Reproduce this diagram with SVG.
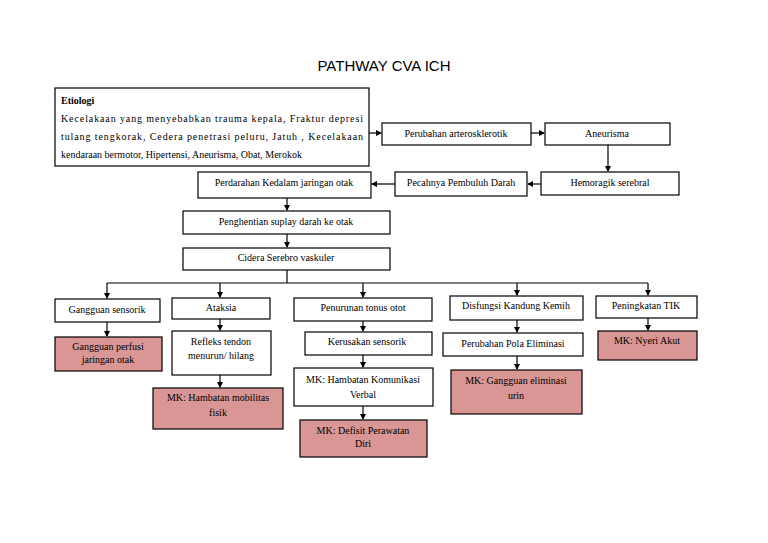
<svg xmlns="http://www.w3.org/2000/svg" width="768" height="543" viewBox="0 0 768 543">
<defs>
<style>
.b{fill:#fff;stroke:#000;stroke-width:1.2}
.p{fill:#d99694;stroke:#000;stroke-width:1.2}
text{font-family:"Liberation Serif",serif;font-size:10px;fill:#000;text-anchor:middle}
.l{stroke:#000;stroke-width:1.2;fill:none}
</style>
<marker id="a" markerWidth="6" markerHeight="6" refX="5" refY="3" orient="auto" markerUnits="userSpaceOnUse"><path d="M0,0 L6,3 L0,6z"/></marker>
</defs>
<rect width="768" height="543" fill="#fff"/>
<text x="384" y="71" style="font-family:'Liberation Sans',sans-serif;font-size:15px">PATHWAY CVA ICH</text>
<g id="etiologi"><rect class="b" x="55" y="88" width="314" height="78"/>
<text x="61" y="104" style="text-anchor:start;font-weight:bold">Etiologi</text>
<text x="61" y="122" style="text-anchor:start" textLength="302" lengthAdjust="spacing">Kecelakaan yang menyebabkan trauma kepala, Fraktur depresi</text>
<text x="61" y="140" style="text-anchor:start" textLength="302" lengthAdjust="spacing">tulang tengkorak, Cedera penetrasi peluru, Jatuh , Kecelakaan</text>
<text x="61" y="158" style="text-anchor:start">kendaraan bermotor, Hipertensi, Aneurisma, Obat, Merokok</text></g>
<g id="perubahan"><rect class="b" x="382" y="123" width="149" height="22"/><text x="456" y="137">Perubahan arterosklerotik</text></g>
<g id="aneurisma"><rect class="b" x="545" y="123" width="125" height="22"/><text x="607" y="137">Aneurisma</text></g>
<g id="hemoragik"><rect class="b" x="541" y="172" width="138" height="23"/><text x="610" y="186">Hemoragik serebral</text></g>
<g id="pecahnya"><rect class="b" x="395" y="172" width="132" height="24"/><text x="461" y="186">Pecahnya Pembuluh Darah</text></g>
<g id="perdarahan"><rect class="b" x="198" y="172" width="173" height="26"/><text x="284" y="186">Perdarahan Kedalam jaringan otak</text></g>
<g id="penghentian"><rect class="b" x="183" y="211" width="207" height="23"/><text x="286" y="225">Penghentian suplay darah ke otak</text></g>
<g id="cidera"><rect class="b" x="183" y="248" width="207" height="22"/><text x="286" y="261">Cidera Serebro vaskuler</text></g>
<g id="sensorik"><rect class="b" x="55" y="299" width="105" height="23"/><text x="107" y="313">Gangguan sensorik</text></g>
<g id="ataksia"><rect class="b" x="172" y="298" width="98" height="21"/><text x="221" y="311">Ataksia</text></g>
<g id="penurunan"><rect class="b" x="294" y="298" width="138" height="23"/><text x="363" y="311">Penurunan tonus otot</text></g>
<g id="disfungsi"><rect class="b" x="450" y="296" width="133" height="24"/><text x="516" y="309">Disfungsi Kandung Kemih</text></g>
<g id="tik"><rect class="b" x="596" y="296" width="101" height="22"/><text x="646" y="309">Peningkatan TIK</text></g>
<g id="perfusi"><rect class="p" x="55" y="337" width="107" height="34"/><text x="108" y="350">Gangguan perfusi</text><text x="108" y="363">jaringan otak</text></g>
<g id="refleks"><rect class="b" x="172" y="331" width="99" height="44"/><text x="221" y="345">Refleks tendon</text><text x="221" y="359">menurun/ hilang</text></g>
<g id="mobilitas"><rect class="p" x="153" y="388" width="130" height="41"/><text x="218" y="401">MK: Hambatan mobilitas</text><text x="218" y="416">fisik</text></g>
<g id="kerusakan"><rect class="b" x="305" y="332" width="127" height="23"/><text x="367" y="345">Kerusakan sensorik</text></g>
<g id="komunikasi"><rect class="b" x="294" y="368" width="139" height="38"/><text x="363" y="383">MK: Hambatan Komunikasi</text><text x="363" y="398">Verbal</text></g>
<g id="defisit"><rect class="p" x="300" y="420" width="127" height="37"/><text x="363" y="434">MK: Defisit Perawatan</text><text x="363" y="447">Diri</text></g>
<g id="pola"><rect class="b" x="443" y="333" width="140" height="23"/><text x="513" y="347">Perubahan Pola Eliminasi</text></g>
<g id="eliminasi"><rect class="p" x="451" y="370" width="131" height="44"/><text x="516" y="384">MK: Gangguan eliminasi</text><text x="516" y="399">urin</text></g>
<g id="nyeri"><rect class="p" x="598" y="331" width="99" height="29"/><text x="647" y="344">MK: Nyeri Akut</text></g>
<g id="connectors" class="l">
<path class="l" d="M369,133 H381" marker-end="url(#a)"/>
<path class="l" d="M531,133 H544" marker-end="url(#a)"/>
<path class="l" d="M608,145 V171" marker-end="url(#a)"/>
<path class="l" d="M541,184 H528" marker-end="url(#a)"/>
<path class="l" d="M395,184 H372" marker-end="url(#a)"/>
<path class="l" d="M287,198 V210" marker-end="url(#a)"/>
<path class="l" d="M287,234 V247" marker-end="url(#a)"/>
<path class="l" d="M287,270 V283 M107,283 H648"/>
<path class="l" d="M107,283 V298" marker-end="url(#a)"/>
<path class="l" d="M220,283 V297" marker-end="url(#a)"/>
<path class="l" d="M363,283 V297" marker-end="url(#a)"/>
<path class="l" d="M517,283 V295" marker-end="url(#a)"/>
<path class="l" d="M648,283 V295" marker-end="url(#a)"/>
<path class="l" d="M107,322 V336" marker-end="url(#a)"/>
<path class="l" d="M220,319 V330" marker-end="url(#a)"/>
<path class="l" d="M220,375 V387" marker-end="url(#a)"/>
<path class="l" d="M363,321 V331" marker-end="url(#a)"/>
<path class="l" d="M363,355 V367" marker-end="url(#a)"/>
<path class="l" d="M363,406 V419" marker-end="url(#a)"/>
<path class="l" d="M517,320 V332" marker-end="url(#a)"/>
<path class="l" d="M517,356 V369" marker-end="url(#a)"/>
<path class="l" d="M648,318 V330" marker-end="url(#a)"/>
</g>
</svg>
